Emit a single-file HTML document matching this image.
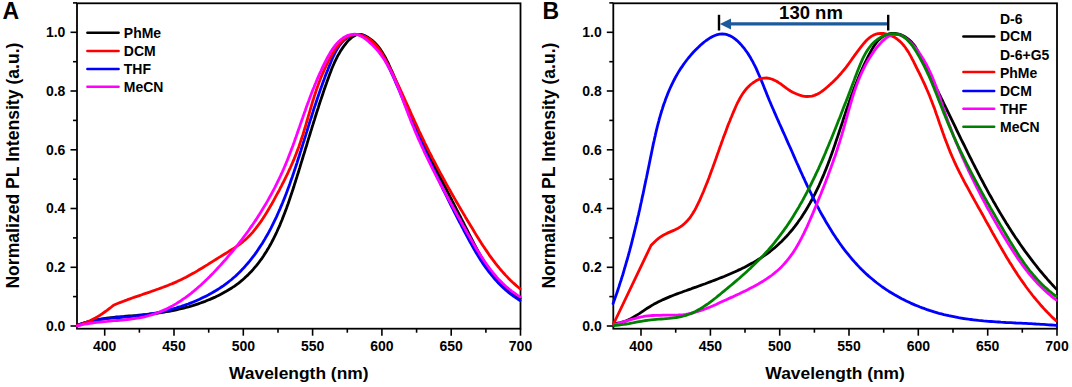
<!DOCTYPE html><html><head><meta charset="utf-8"><style>html,body{margin:0;padding:0;background:#fff;}svg{display:block;}</style></head><body><svg width="1072" height="387" viewBox="0 0 1072 387">
<rect width="1072" height="387" fill="#fff"/>
<rect x="77.0" y="3.3" width="443.5" height="325.4" fill="none" stroke="#000" stroke-width="1.8"/>
<line x1="70.5" y1="326.0" x2="77.0" y2="326.0" stroke="#000" stroke-width="1.6"/>
<text transform="translate(65.4 330.9) scale(1 1.05)" text-anchor="end" font-size="14" font-family="'Liberation Sans', sans-serif" font-weight="bold">0.0</text>
<line x1="73.0" y1="296.6" x2="77.0" y2="296.6" stroke="#000" stroke-width="1.6"/>
<line x1="70.5" y1="267.3" x2="77.0" y2="267.3" stroke="#000" stroke-width="1.6"/>
<text transform="translate(65.4 272.2) scale(1 1.05)" text-anchor="end" font-size="14" font-family="'Liberation Sans', sans-serif" font-weight="bold">0.2</text>
<line x1="73.0" y1="237.9" x2="77.0" y2="237.9" stroke="#000" stroke-width="1.6"/>
<line x1="70.5" y1="208.5" x2="77.0" y2="208.5" stroke="#000" stroke-width="1.6"/>
<text transform="translate(65.4 213.4) scale(1 1.05)" text-anchor="end" font-size="14" font-family="'Liberation Sans', sans-serif" font-weight="bold">0.4</text>
<line x1="73.0" y1="179.2" x2="77.0" y2="179.2" stroke="#000" stroke-width="1.6"/>
<line x1="70.5" y1="149.8" x2="77.0" y2="149.8" stroke="#000" stroke-width="1.6"/>
<text transform="translate(65.4 154.7) scale(1 1.05)" text-anchor="end" font-size="14" font-family="'Liberation Sans', sans-serif" font-weight="bold">0.6</text>
<line x1="73.0" y1="120.4" x2="77.0" y2="120.4" stroke="#000" stroke-width="1.6"/>
<line x1="70.5" y1="91.0" x2="77.0" y2="91.0" stroke="#000" stroke-width="1.6"/>
<text transform="translate(65.4 95.9) scale(1 1.05)" text-anchor="end" font-size="14" font-family="'Liberation Sans', sans-serif" font-weight="bold">0.8</text>
<line x1="73.0" y1="61.7" x2="77.0" y2="61.7" stroke="#000" stroke-width="1.6"/>
<line x1="70.5" y1="32.3" x2="77.0" y2="32.3" stroke="#000" stroke-width="1.6"/>
<text transform="translate(65.4 37.2) scale(1 1.05)" text-anchor="end" font-size="14" font-family="'Liberation Sans', sans-serif" font-weight="bold">1.0</text>
<line x1="73.0" y1="2.9" x2="77.0" y2="2.9" stroke="#000" stroke-width="1.6"/>
<line x1="104.7" y1="328.7" x2="104.7" y2="335.7" stroke="#000" stroke-width="1.6"/>
<text transform="translate(104.7 351.2) scale(1 1.03)" text-anchor="middle" font-size="14" font-family="'Liberation Sans', sans-serif" font-weight="bold">400</text>
<line x1="139.4" y1="328.7" x2="139.4" y2="332.7" stroke="#000" stroke-width="1.6"/>
<line x1="174.0" y1="328.7" x2="174.0" y2="335.7" stroke="#000" stroke-width="1.6"/>
<text transform="translate(174.0 351.2) scale(1 1.03)" text-anchor="middle" font-size="14" font-family="'Liberation Sans', sans-serif" font-weight="bold">450</text>
<line x1="208.7" y1="328.7" x2="208.7" y2="332.7" stroke="#000" stroke-width="1.6"/>
<line x1="243.3" y1="328.7" x2="243.3" y2="335.7" stroke="#000" stroke-width="1.6"/>
<text transform="translate(243.3 351.2) scale(1 1.03)" text-anchor="middle" font-size="14" font-family="'Liberation Sans', sans-serif" font-weight="bold">500</text>
<line x1="278.0" y1="328.7" x2="278.0" y2="332.7" stroke="#000" stroke-width="1.6"/>
<line x1="312.6" y1="328.7" x2="312.6" y2="335.7" stroke="#000" stroke-width="1.6"/>
<text transform="translate(312.6 351.2) scale(1 1.03)" text-anchor="middle" font-size="14" font-family="'Liberation Sans', sans-serif" font-weight="bold">550</text>
<line x1="347.3" y1="328.7" x2="347.3" y2="332.7" stroke="#000" stroke-width="1.6"/>
<line x1="381.9" y1="328.7" x2="381.9" y2="335.7" stroke="#000" stroke-width="1.6"/>
<text transform="translate(381.9 351.2) scale(1 1.03)" text-anchor="middle" font-size="14" font-family="'Liberation Sans', sans-serif" font-weight="bold">600</text>
<line x1="416.6" y1="328.7" x2="416.6" y2="332.7" stroke="#000" stroke-width="1.6"/>
<line x1="451.2" y1="328.7" x2="451.2" y2="335.7" stroke="#000" stroke-width="1.6"/>
<text transform="translate(451.2 351.2) scale(1 1.03)" text-anchor="middle" font-size="14" font-family="'Liberation Sans', sans-serif" font-weight="bold">650</text>
<line x1="485.9" y1="328.7" x2="485.9" y2="332.7" stroke="#000" stroke-width="1.6"/>
<line x1="520.5" y1="328.7" x2="520.5" y2="335.7" stroke="#000" stroke-width="1.6"/>
<text transform="translate(520.5 351.2) scale(1 1.03)" text-anchor="middle" font-size="14" font-family="'Liberation Sans', sans-serif" font-weight="bold">700</text>
<text x="298.8" y="378.9" text-anchor="middle" font-size="17.4" font-family="'Liberation Sans', sans-serif" font-weight="bold">Wavelength (nm)</text>
<text x="0" y="0" transform="translate(18.8 165.6) rotate(-90)" text-anchor="middle" font-size="17.6" font-family="'Liberation Sans', sans-serif" font-weight="bold">Normalized PL Intensity (a.u.)</text>
<text x="2.6" y="19" font-size="23" font-family="'Liberation Sans', sans-serif" font-weight="bold">A</text>
<rect x="613.3" y="3.3" width="443.7" height="325.4" fill="none" stroke="#000" stroke-width="1.8"/>
<line x1="606.8" y1="326.0" x2="613.3" y2="326.0" stroke="#000" stroke-width="1.6"/>
<text transform="translate(601.7 330.9) scale(1 1.05)" text-anchor="end" font-size="14" font-family="'Liberation Sans', sans-serif" font-weight="bold">0.0</text>
<line x1="609.3" y1="296.6" x2="613.3" y2="296.6" stroke="#000" stroke-width="1.6"/>
<line x1="606.8" y1="267.3" x2="613.3" y2="267.3" stroke="#000" stroke-width="1.6"/>
<text transform="translate(601.7 272.2) scale(1 1.05)" text-anchor="end" font-size="14" font-family="'Liberation Sans', sans-serif" font-weight="bold">0.2</text>
<line x1="609.3" y1="237.9" x2="613.3" y2="237.9" stroke="#000" stroke-width="1.6"/>
<line x1="606.8" y1="208.5" x2="613.3" y2="208.5" stroke="#000" stroke-width="1.6"/>
<text transform="translate(601.7 213.4) scale(1 1.05)" text-anchor="end" font-size="14" font-family="'Liberation Sans', sans-serif" font-weight="bold">0.4</text>
<line x1="609.3" y1="179.2" x2="613.3" y2="179.2" stroke="#000" stroke-width="1.6"/>
<line x1="606.8" y1="149.8" x2="613.3" y2="149.8" stroke="#000" stroke-width="1.6"/>
<text transform="translate(601.7 154.7) scale(1 1.05)" text-anchor="end" font-size="14" font-family="'Liberation Sans', sans-serif" font-weight="bold">0.6</text>
<line x1="609.3" y1="120.4" x2="613.3" y2="120.4" stroke="#000" stroke-width="1.6"/>
<line x1="606.8" y1="91.0" x2="613.3" y2="91.0" stroke="#000" stroke-width="1.6"/>
<text transform="translate(601.7 95.9) scale(1 1.05)" text-anchor="end" font-size="14" font-family="'Liberation Sans', sans-serif" font-weight="bold">0.8</text>
<line x1="609.3" y1="61.7" x2="613.3" y2="61.7" stroke="#000" stroke-width="1.6"/>
<line x1="606.8" y1="32.3" x2="613.3" y2="32.3" stroke="#000" stroke-width="1.6"/>
<text transform="translate(601.7 37.2) scale(1 1.05)" text-anchor="end" font-size="14" font-family="'Liberation Sans', sans-serif" font-weight="bold">1.0</text>
<line x1="609.3" y1="2.9" x2="613.3" y2="2.9" stroke="#000" stroke-width="1.6"/>
<line x1="641.0" y1="328.7" x2="641.0" y2="335.7" stroke="#000" stroke-width="1.6"/>
<text transform="translate(641.0 351.2) scale(1 1.03)" text-anchor="middle" font-size="14" font-family="'Liberation Sans', sans-serif" font-weight="bold">400</text>
<line x1="675.7" y1="328.7" x2="675.7" y2="332.7" stroke="#000" stroke-width="1.6"/>
<line x1="710.4" y1="328.7" x2="710.4" y2="335.7" stroke="#000" stroke-width="1.6"/>
<text transform="translate(710.4 351.2) scale(1 1.03)" text-anchor="middle" font-size="14" font-family="'Liberation Sans', sans-serif" font-weight="bold">450</text>
<line x1="745.0" y1="328.7" x2="745.0" y2="332.7" stroke="#000" stroke-width="1.6"/>
<line x1="779.7" y1="328.7" x2="779.7" y2="335.7" stroke="#000" stroke-width="1.6"/>
<text transform="translate(779.7 351.2) scale(1 1.03)" text-anchor="middle" font-size="14" font-family="'Liberation Sans', sans-serif" font-weight="bold">500</text>
<line x1="814.4" y1="328.7" x2="814.4" y2="332.7" stroke="#000" stroke-width="1.6"/>
<line x1="849.0" y1="328.7" x2="849.0" y2="335.7" stroke="#000" stroke-width="1.6"/>
<text transform="translate(849.0 351.2) scale(1 1.03)" text-anchor="middle" font-size="14" font-family="'Liberation Sans', sans-serif" font-weight="bold">550</text>
<line x1="883.7" y1="328.7" x2="883.7" y2="332.7" stroke="#000" stroke-width="1.6"/>
<line x1="918.3" y1="328.7" x2="918.3" y2="335.7" stroke="#000" stroke-width="1.6"/>
<text transform="translate(918.3 351.2) scale(1 1.03)" text-anchor="middle" font-size="14" font-family="'Liberation Sans', sans-serif" font-weight="bold">600</text>
<line x1="953.0" y1="328.7" x2="953.0" y2="332.7" stroke="#000" stroke-width="1.6"/>
<line x1="987.7" y1="328.7" x2="987.7" y2="335.7" stroke="#000" stroke-width="1.6"/>
<text transform="translate(987.7 351.2) scale(1 1.03)" text-anchor="middle" font-size="14" font-family="'Liberation Sans', sans-serif" font-weight="bold">650</text>
<line x1="1022.3" y1="328.7" x2="1022.3" y2="332.7" stroke="#000" stroke-width="1.6"/>
<line x1="1057.0" y1="328.7" x2="1057.0" y2="335.7" stroke="#000" stroke-width="1.6"/>
<text transform="translate(1057.0 351.2) scale(1 1.03)" text-anchor="middle" font-size="14" font-family="'Liberation Sans', sans-serif" font-weight="bold">700</text>
<text x="835.1" y="378.9" text-anchor="middle" font-size="17.4" font-family="'Liberation Sans', sans-serif" font-weight="bold">Wavelength (nm)</text>
<text x="0" y="0" transform="translate(555.1 165.6) rotate(-90)" text-anchor="middle" font-size="17.6" font-family="'Liberation Sans', sans-serif" font-weight="bold">Normalized PL Intensity (a.u.)</text>
<text x="542.6" y="19" font-size="23" font-family="'Liberation Sans', sans-serif" font-weight="bold">B</text>
<path d="M77.3 325.3 L79.7 324.5 L82.1 323.7 L84.5 322.9 L86.9 322.2 L89.3 321.6 L91.7 321.0 L94.2 320.4 L96.6 319.9 L99.1 319.4 L101.6 319.0 L104.1 318.6 L106.6 318.2 L109.0 317.9 L111.5 317.6 L114.0 317.3 L116.5 317.0 L119.0 316.8 L121.5 316.6 L124.0 316.4 L126.6 316.1 L129.1 315.9 L131.6 315.8 L134.1 315.6 L136.6 315.4 L139.1 315.1 L141.6 314.9 L144.1 314.7 L146.6 314.5 L149.1 314.2 L151.6 313.9 L154.1 313.6 L156.6 313.3 L159.1 312.9 L161.5 312.6 L164.0 312.2 L166.5 311.7 L169.0 311.3 L171.4 310.8 L173.9 310.3 L176.4 309.8 L178.8 309.2 L181.3 308.7 L183.7 308.1 L186.1 307.4 L188.6 306.8 L191.0 306.1 L193.4 305.4 L195.8 304.6 L198.2 303.8 L200.5 303.0 L202.9 302.1 L205.3 301.3 L207.6 300.3 L209.9 299.4 L212.2 298.4 L214.5 297.4 L216.8 296.3 L219.0 295.2 L221.3 294.0 L223.5 292.8 L225.7 291.6 L227.9 290.3 L230.0 289.0 L232.1 287.7 L234.2 286.3 L236.2 284.8 L238.3 283.3 L240.2 281.8 L242.2 280.2 L244.1 278.5 L245.9 276.8 L247.8 275.1 L249.5 273.3 L251.3 271.5 L253.0 269.6 L254.6 267.7 L256.2 265.8 L257.8 263.8 L259.3 261.9 L260.8 259.8 L262.3 257.8 L263.7 255.7 L265.0 253.6 L266.4 251.5 L267.7 249.3 L269.0 247.2 L270.2 245.0 L271.4 242.8 L272.6 240.5 L273.7 238.3 L274.8 236.1 L275.9 233.8 L277.0 231.5 L278.0 229.2 L279.1 226.9 L280.1 224.6 L281.0 222.3 L282.0 220.0 L282.9 217.6 L283.8 215.3 L284.7 213.0 L285.6 210.6 L286.5 208.3 L287.3 205.9 L288.2 203.5 L289.0 201.1 L289.8 198.8 L290.6 196.4 L291.4 194.0 L292.2 191.6 L293.0 189.2 L293.8 186.8 L294.5 184.4 L295.3 182.0 L296.0 179.6 L296.8 177.2 L297.5 174.9 L298.3 172.5 L299.0 170.1 L299.8 167.6 L300.5 165.2 L301.2 162.8 L302.0 160.4 L302.7 158.0 L303.4 155.6 L304.2 153.2 L304.9 150.8 L305.6 148.4 L306.4 146.0 L307.1 143.6 L307.8 141.2 L308.5 138.8 L309.3 136.4 L310.0 134.0 L310.7 131.6 L311.5 129.2 L312.2 126.8 L313.0 124.4 L313.7 122.0 L314.5 119.6 L315.2 117.2 L316.0 114.8 L316.7 112.4 L317.5 110.0 L318.3 107.6 L319.0 105.2 L319.8 102.8 L320.6 100.4 L321.4 98.1 L322.2 95.7 L323.0 93.3 L323.8 90.9 L324.6 88.5 L325.4 86.2 L326.3 83.8 L327.1 81.4 L328.0 79.1 L328.8 76.7 L329.7 74.3 L330.6 72.0 L331.5 69.6 L332.4 67.3 L333.4 65.0 L334.4 62.7 L335.5 60.4 L336.6 58.2 L337.7 55.9 L339.0 53.7 L340.2 51.6 L341.6 49.4 L343.0 47.4 L344.5 45.3 L346.0 43.3 L347.6 41.4 L349.3 39.6 L351.2 37.9 L353.2 36.4 L355.4 35.2 L357.8 34.4 L360.3 34.3 L362.7 34.8 L365.1 35.8 L367.3 36.9 L369.4 38.3 L371.5 39.8 L373.4 41.4 L375.2 43.1 L376.9 45.0 L378.5 46.9 L380.0 48.9 L381.4 51.0 L382.8 53.1 L384.0 55.3 L385.3 57.5 L386.4 59.7 L387.6 61.9 L388.7 64.2 L389.7 66.5 L390.7 68.8 L391.8 71.1 L392.8 73.4 L393.8 75.7 L394.8 78.0 L395.7 80.3 L396.7 82.6 L397.7 84.9 L398.7 87.3 L399.6 89.6 L400.6 91.9 L401.6 94.2 L402.5 96.5 L403.5 98.8 L404.5 101.2 L405.5 103.5 L406.4 105.8 L407.4 108.1 L408.4 110.4 L409.4 112.7 L410.4 115.0 L411.4 117.3 L412.4 119.6 L413.5 121.9 L414.5 124.2 L415.5 126.5 L416.6 128.8 L417.6 131.1 L418.7 133.4 L419.7 135.6 L420.8 137.9 L421.9 140.2 L423.0 142.5 L424.0 144.7 L425.1 147.0 L426.2 149.2 L427.3 151.5 L428.4 153.8 L429.5 156.0 L430.7 158.3 L431.8 160.5 L432.9 162.8 L434.0 165.0 L435.1 167.3 L436.3 169.5 L437.4 171.8 L438.5 174.0 L439.7 176.2 L440.8 178.5 L441.9 180.7 L443.1 183.0 L444.2 185.2 L445.4 187.4 L446.5 189.7 L447.6 191.9 L448.8 194.2 L449.9 196.4 L451.1 198.6 L452.2 200.9 L453.4 203.1 L454.5 205.3 L455.7 207.6 L456.8 209.8 L458.0 212.0 L459.1 214.3 L460.2 216.5 L461.4 218.8 L462.5 221.0 L463.7 223.2 L464.8 225.5 L465.9 227.7 L467.1 230.0 L468.2 232.2 L469.3 234.5 L470.5 236.7 L471.6 238.9 L472.8 241.2 L473.9 243.4 L475.1 245.6 L476.3 247.8 L477.5 250.1 L478.7 252.3 L479.9 254.4 L481.2 256.6 L482.5 258.8 L483.8 260.9 L485.1 263.0 L486.5 265.1 L487.9 267.2 L489.4 269.3 L490.8 271.3 L492.4 273.3 L493.9 275.3 L495.5 277.2 L497.1 279.1 L498.8 281.0 L500.5 282.8 L502.3 284.6 L504.1 286.4 L506.0 288.1 L507.9 289.7 L509.8 291.3 L511.8 292.9 L513.8 294.4 L515.9 295.8 L518.0 297.2 L520.1 298.5" fill="none" stroke="#000" stroke-width="2.8" stroke-linejoin="round" stroke-linecap="round"/>
<path d="M77.3 325.3 L79.7 324.4 L82.0 323.6 L84.4 322.9 L86.9 322.2 L89.3 321.6 L91.8 321.0 L94.2 320.5 L96.7 320.1 L99.2 319.6 L101.6 319.3 L104.1 318.9 L106.6 318.6 L109.1 318.3 L111.6 318.1 L114.1 317.9 L116.6 317.7 L119.1 317.5 L121.7 317.3 L124.2 317.1 L126.7 316.9 L129.2 316.7 L131.7 316.4 L134.2 316.2 L136.7 315.9 L139.2 315.6 L141.7 315.3 L144.2 314.9 L146.6 314.6 L149.1 314.2 L151.6 313.7 L154.1 313.3 L156.5 312.8 L159.0 312.3 L161.5 311.8 L163.9 311.2 L166.3 310.6 L168.8 310.0 L171.2 309.3 L173.6 308.7 L176.0 308.0 L178.4 307.2 L180.8 306.5 L183.2 305.7 L185.6 304.8 L188.0 304.0 L190.3 303.1 L192.6 302.2 L195.0 301.2 L197.3 300.2 L199.6 299.2 L201.9 298.1 L204.1 297.0 L206.4 295.9 L208.6 294.8 L210.8 293.6 L213.0 292.3 L215.2 291.0 L217.3 289.7 L219.4 288.4 L221.5 287.0 L223.6 285.6 L225.6 284.1 L227.6 282.6 L229.6 281.0 L231.6 279.5 L233.5 277.8 L235.4 276.2 L237.2 274.4 L239.0 272.7 L240.8 270.9 L242.6 269.1 L244.3 267.3 L245.9 265.4 L247.6 263.5 L249.2 261.6 L250.8 259.6 L252.3 257.7 L253.9 255.7 L255.4 253.6 L256.8 251.6 L258.2 249.5 L259.6 247.4 L261.0 245.3 L262.4 243.2 L263.7 241.1 L265.0 238.9 L266.2 236.7 L267.5 234.6 L268.7 232.4 L269.9 230.1 L271.1 227.9 L272.2 225.7 L273.3 223.4 L274.4 221.2 L275.5 218.9 L276.6 216.6 L277.6 214.3 L278.6 212.0 L279.7 209.7 L280.6 207.4 L281.6 205.1 L282.6 202.8 L283.5 200.5 L284.5 198.1 L285.4 195.8 L286.3 193.4 L287.2 191.1 L288.0 188.7 L288.9 186.4 L289.8 184.0 L290.6 181.6 L291.4 179.3 L292.3 176.9 L293.1 174.5 L293.9 172.1 L294.7 169.8 L295.5 167.4 L296.3 165.0 L297.1 162.6 L297.8 160.2 L298.6 157.8 L299.4 155.4 L300.1 153.0 L300.9 150.6 L301.6 148.2 L302.4 145.8 L303.1 143.4 L303.9 141.0 L304.6 138.6 L305.4 136.2 L306.1 133.8 L306.9 131.4 L307.6 129.0 L308.3 126.6 L309.1 124.2 L309.8 121.8 L310.6 119.4 L311.4 117.0 L312.1 114.6 L312.9 112.2 L313.6 109.8 L314.4 107.4 L315.2 105.1 L316.0 102.7 L316.8 100.3 L317.6 97.9 L318.4 95.5 L319.2 93.1 L320.0 90.8 L320.8 88.4 L321.7 86.0 L322.5 83.7 L323.4 81.3 L324.3 78.9 L325.1 76.6 L326.0 74.2 L326.9 71.9 L327.9 69.6 L328.8 67.2 L329.7 64.9 L330.7 62.6 L331.6 60.2 L332.6 57.9 L333.7 55.6 L334.8 53.4 L336.0 51.2 L337.2 49.0 L338.5 46.9 L340.0 44.8 L341.6 42.8 L343.3 41.0 L345.2 39.3 L347.2 37.8 L349.4 36.6 L351.7 35.5 L354.0 34.8 L356.5 34.3 L359.0 34.3 L361.5 34.7 L363.8 35.6 L366.0 36.9 L368.0 38.4 L370.0 39.9 L371.8 41.6 L373.6 43.4 L375.3 45.3 L376.9 47.2 L378.4 49.2 L379.9 51.3 L381.3 53.4 L382.6 55.5 L383.9 57.7 L385.1 59.9 L386.3 62.1 L387.4 64.3 L388.5 66.6 L389.6 68.8 L390.7 71.1 L391.7 73.4 L392.8 75.7 L393.8 78.0 L394.8 80.3 L395.8 82.6 L396.8 84.9 L397.8 87.2 L398.8 89.5 L399.8 91.8 L400.8 94.2 L401.7 96.5 L402.7 98.8 L403.7 101.1 L404.6 103.4 L405.6 105.7 L406.6 108.1 L407.5 110.4 L408.5 112.7 L409.5 115.0 L410.4 117.3 L411.4 119.7 L412.4 122.0 L413.4 124.3 L414.4 126.6 L415.4 128.9 L416.4 131.2 L417.4 133.5 L418.4 135.8 L419.4 138.1 L420.4 140.4 L421.5 142.7 L422.5 145.0 L423.5 147.3 L424.5 149.6 L425.6 151.9 L426.6 154.2 L427.7 156.5 L428.7 158.7 L429.8 161.0 L430.8 163.3 L431.9 165.6 L432.9 167.9 L434.0 170.1 L435.1 172.4 L436.1 174.7 L437.2 177.0 L438.3 179.2 L439.4 181.5 L440.5 183.8 L441.6 186.0 L442.6 188.3 L443.7 190.6 L444.9 192.8 L446.0 195.1 L447.1 197.3 L448.2 199.6 L449.3 201.8 L450.4 204.1 L451.5 206.3 L452.7 208.6 L453.8 210.8 L454.9 213.1 L456.1 215.3 L457.2 217.5 L458.4 219.8 L459.5 222.0 L460.7 224.2 L461.8 226.5 L463.0 228.7 L464.1 230.9 L465.3 233.2 L466.5 235.4 L467.7 237.6 L468.9 239.8 L470.1 242.0 L471.3 244.2 L472.5 246.4 L473.7 248.6 L475.0 250.8 L476.3 253.0 L477.6 255.1 L478.9 257.2 L480.2 259.4 L481.6 261.5 L483.0 263.6 L484.4 265.7 L485.8 267.7 L487.3 269.7 L488.8 271.8 L490.4 273.7 L492.0 275.7 L493.6 277.6 L495.2 279.5 L496.9 281.4 L498.6 283.2 L500.4 285.0 L502.2 286.8 L504.0 288.5 L505.9 290.1 L507.8 291.8 L509.8 293.3 L511.8 294.9 L513.8 296.4 L515.9 297.8 L518.0 299.2 L520.1 300.5" fill="none" stroke="#00f" stroke-width="2.8" stroke-linejoin="round" stroke-linecap="round"/>
<path d="M77.3 325.3 L80.0 324.6 L82.6 323.7 L85.3 322.8 L87.8 321.7 L90.4 320.6 L92.9 319.3 L95.3 318.0 L97.7 316.6 L100.1 315.2 L102.4 313.6 L104.7 312.0 L107.0 310.4 L109.2 308.7 L111.4 307.0 L113.5 305.2 L113.5 305.2 L115.8 304.2 L118.1 303.3 L120.5 302.4 L122.8 301.5 L125.2 300.6 L127.5 299.7 L129.9 298.9 L132.2 298.0 L134.6 297.2 L137.0 296.4 L139.4 295.6 L141.7 294.8 L144.1 293.9 L146.5 293.1 L148.9 292.3 L151.2 291.5 L153.6 290.7 L156.0 289.8 L158.3 289.0 L160.7 288.1 L163.0 287.3 L165.4 286.4 L167.7 285.5 L170.0 284.5 L172.4 283.6 L174.7 282.6 L177.0 281.6 L179.2 280.5 L181.5 279.4 L183.8 278.3 L186.0 277.2 L188.2 276.0 L190.4 274.8 L192.6 273.6 L194.8 272.4 L197.0 271.1 L199.1 269.8 L201.3 268.5 L203.4 267.2 L205.5 265.9 L207.7 264.6 L209.8 263.2 L211.9 261.9 L214.0 260.6 L216.2 259.2 L218.3 257.9 L220.4 256.6 L222.6 255.3 L224.7 254.0 L226.9 252.7 L229.0 251.3 L231.1 250.0 L233.2 248.7 L235.3 247.3 L237.4 245.9 L239.5 244.4 L241.5 242.9 L243.4 241.3 L245.3 239.7 L247.1 238.0 L248.9 236.2 L250.7 234.4 L252.4 232.6 L254.0 230.7 L255.6 228.7 L257.1 226.7 L258.6 224.7 L260.1 222.7 L261.5 220.6 L262.9 218.5 L264.3 216.4 L265.6 214.3 L266.9 212.2 L268.2 210.0 L269.5 207.8 L270.7 205.7 L272.0 203.5 L273.2 201.3 L274.4 199.1 L275.6 196.9 L276.8 194.7 L278.0 192.5 L279.2 190.3 L280.3 188.0 L281.5 185.8 L282.6 183.6 L283.8 181.3 L284.9 179.1 L286.0 176.8 L287.1 174.6 L288.2 172.3 L289.2 170.0 L290.3 167.8 L291.3 165.5 L292.3 163.2 L293.3 160.9 L294.3 158.6 L295.2 156.2 L296.1 153.9 L297.0 151.6 L297.9 149.2 L298.8 146.9 L299.6 144.5 L300.4 142.1 L301.2 139.7 L302.0 137.3 L302.8 135.0 L303.5 132.6 L304.2 130.2 L305.0 127.8 L305.7 125.4 L306.4 122.9 L307.1 120.5 L307.8 118.1 L308.5 115.7 L309.2 113.3 L309.9 110.9 L310.6 108.5 L311.3 106.1 L312.0 103.7 L312.7 101.3 L313.5 98.9 L314.2 96.5 L315.0 94.1 L315.8 91.7 L316.6 89.3 L317.4 87.0 L318.3 84.6 L319.1 82.2 L320.0 79.9 L320.9 77.6 L321.9 75.2 L322.9 72.9 L323.9 70.6 L324.9 68.4 L326.0 66.1 L327.1 63.8 L328.2 61.6 L329.4 59.4 L330.6 57.2 L331.8 55.0 L333.1 52.8 L334.4 50.7 L335.8 48.6 L337.3 46.6 L338.8 44.6 L340.4 42.7 L342.2 40.9 L344.1 39.2 L346.1 37.7 L348.2 36.4 L350.5 35.5 L353.0 34.8 L355.5 34.5 L358.0 34.6 L360.4 35.0 L362.8 35.7 L365.1 36.7 L367.4 37.9 L369.5 39.2 L371.5 40.8 L373.3 42.4 L375.1 44.2 L376.8 46.1 L378.4 48.0 L379.8 50.1 L381.2 52.2 L382.5 54.3 L383.7 56.5 L385.0 58.7 L386.1 60.9 L387.3 63.1 L388.5 65.3 L389.6 67.6 L390.7 69.8 L391.9 72.1 L393.0 74.3 L394.1 76.6 L395.2 78.8 L396.3 81.1 L397.3 83.3 L398.4 85.6 L399.5 87.9 L400.5 90.2 L401.6 92.4 L402.6 94.7 L403.7 97.0 L404.7 99.3 L405.7 101.6 L406.8 103.9 L407.8 106.1 L408.8 108.4 L409.9 110.7 L410.9 113.0 L411.9 115.3 L413.0 117.6 L414.0 119.9 L415.0 122.2 L416.1 124.4 L417.1 126.7 L418.2 129.0 L419.2 131.3 L420.3 133.5 L421.4 135.8 L422.5 138.1 L423.6 140.3 L424.6 142.6 L425.8 144.8 L426.9 147.1 L428.0 149.3 L429.1 151.6 L430.3 153.8 L431.4 156.0 L432.5 158.3 L433.7 160.5 L434.9 162.7 L436.0 164.9 L437.2 167.2 L438.4 169.4 L439.6 171.6 L440.8 173.8 L442.0 176.0 L443.2 178.2 L444.4 180.4 L445.6 182.6 L446.8 184.8 L448.0 187.0 L449.3 189.2 L450.5 191.3 L451.7 193.5 L453.0 195.7 L454.2 197.9 L455.5 200.1 L456.7 202.2 L458.0 204.4 L459.3 206.6 L460.5 208.7 L461.8 210.9 L463.1 213.1 L464.4 215.2 L465.6 217.4 L466.9 219.5 L468.2 221.7 L469.5 223.8 L470.8 226.0 L472.1 228.1 L473.4 230.3 L474.7 232.4 L476.0 234.6 L477.3 236.7 L478.6 238.8 L480.0 241.0 L481.3 243.1 L482.7 245.2 L484.1 247.3 L485.5 249.4 L486.9 251.4 L488.3 253.5 L489.7 255.6 L491.2 257.6 L492.7 259.6 L494.2 261.6 L495.7 263.6 L497.3 265.6 L498.9 267.5 L500.5 269.5 L502.1 271.4 L503.8 273.2 L505.5 275.1 L507.2 276.9 L508.9 278.7 L510.7 280.5 L512.5 282.2 L514.4 283.9 L516.3 285.6 L518.2 287.2 L520.1 288.8" fill="none" stroke="#f00" stroke-width="2.8" stroke-linejoin="round" stroke-linecap="round"/>
<path d="M77.3 325.9 L79.7 325.3 L82.2 324.7 L84.6 324.2 L87.1 323.8 L89.6 323.4 L92.1 323.0 L94.6 322.7 L97.1 322.4 L99.6 322.1 L102.0 321.8 L104.5 321.6 L107.0 321.4 L109.6 321.1 L112.1 320.9 L114.6 320.7 L117.1 320.5 L119.6 320.3 L122.1 320.1 L124.6 319.8 L127.1 319.5 L129.5 319.3 L132.0 318.9 L134.5 318.6 L137.0 318.2 L139.5 317.8 L141.9 317.3 L144.4 316.8 L146.8 316.2 L149.3 315.5 L151.7 314.8 L154.1 314.1 L156.4 313.2 L158.8 312.3 L161.1 311.4 L163.4 310.4 L165.7 309.4 L167.9 308.2 L170.2 307.1 L172.4 305.9 L174.6 304.6 L176.7 303.4 L178.8 302.0 L181.0 300.7 L183.0 299.2 L185.1 297.8 L187.1 296.3 L189.1 294.8 L191.1 293.3 L193.1 291.7 L195.0 290.1 L196.9 288.5 L198.8 286.8 L200.7 285.2 L202.5 283.5 L204.4 281.8 L206.2 280.0 L208.0 278.3 L209.8 276.5 L211.5 274.7 L213.3 272.9 L215.0 271.1 L216.7 269.3 L218.4 267.4 L220.1 265.6 L221.8 263.7 L223.5 261.8 L225.2 260.0 L226.8 258.1 L228.4 256.2 L230.1 254.2 L231.7 252.3 L233.3 250.4 L234.9 248.4 L236.4 246.5 L238.0 244.5 L239.5 242.5 L241.1 240.5 L242.6 238.6 L244.1 236.5 L245.6 234.5 L247.1 232.5 L248.6 230.5 L250.0 228.4 L251.4 226.4 L252.9 224.3 L254.3 222.2 L255.7 220.1 L257.1 218.0 L258.4 215.9 L259.8 213.8 L261.1 211.7 L262.4 209.6 L263.7 207.4 L265.0 205.3 L266.3 203.1 L267.6 200.9 L268.8 198.7 L270.0 196.5 L271.2 194.3 L272.4 192.1 L273.6 189.9 L274.8 187.7 L275.9 185.4 L277.0 183.2 L278.1 180.9 L279.2 178.7 L280.3 176.4 L281.3 174.1 L282.4 171.8 L283.4 169.5 L284.4 167.2 L285.4 164.9 L286.3 162.6 L287.3 160.3 L288.2 157.9 L289.1 155.6 L290.0 153.3 L290.9 150.9 L291.8 148.6 L292.7 146.2 L293.5 143.9 L294.4 141.5 L295.2 139.1 L296.1 136.8 L296.9 134.4 L297.7 132.0 L298.5 129.7 L299.4 127.3 L300.2 124.9 L301.0 122.5 L301.8 120.2 L302.7 117.8 L303.5 115.4 L304.3 113.1 L305.2 110.7 L306.0 108.3 L306.8 106.0 L307.7 103.6 L308.6 101.2 L309.4 98.9 L310.3 96.5 L311.2 94.2 L312.1 91.8 L313.0 89.5 L314.0 87.2 L314.9 84.8 L315.9 82.5 L316.8 80.2 L317.8 77.9 L318.8 75.6 L319.8 73.3 L320.9 71.0 L321.9 68.7 L323.0 66.5 L324.1 64.2 L325.2 62.0 L326.4 59.7 L327.5 57.5 L328.8 55.3 L330.0 53.1 L331.3 51.0 L332.7 48.9 L334.2 46.9 L335.7 44.9 L337.4 43.0 L339.1 41.2 L341.0 39.5 L343.0 38.0 L345.2 36.7 L347.4 35.6 L349.8 34.8 L352.3 34.3 L354.8 34.2 L357.2 34.6 L359.6 35.4 L361.8 36.6 L363.9 37.9 L366.0 39.4 L367.9 41.0 L369.8 42.6 L371.7 44.3 L373.5 46.0 L375.2 47.9 L376.9 49.7 L378.5 51.7 L380.0 53.6 L381.5 55.6 L383.0 57.7 L384.4 59.8 L385.7 61.9 L387.0 64.1 L388.2 66.3 L389.4 68.5 L390.6 70.7 L391.7 72.9 L392.8 75.2 L393.9 77.5 L394.9 79.8 L395.9 82.1 L396.9 84.4 L397.8 86.7 L398.8 89.0 L399.7 91.4 L400.6 93.7 L401.5 96.1 L402.4 98.4 L403.2 100.8 L404.1 103.1 L405.0 105.5 L405.9 107.8 L406.8 110.2 L407.7 112.5 L408.5 114.9 L409.5 117.2 L410.4 119.5 L411.3 121.9 L412.2 124.2 L413.2 126.5 L414.2 128.8 L415.1 131.2 L416.1 133.5 L417.1 135.8 L418.1 138.1 L419.1 140.4 L420.2 142.7 L421.2 145.0 L422.2 147.2 L423.3 149.5 L424.3 151.8 L425.4 154.1 L426.5 156.3 L427.6 158.6 L428.7 160.9 L429.8 163.1 L430.9 165.4 L432.0 167.6 L433.1 169.8 L434.3 172.1 L435.4 174.3 L436.6 176.6 L437.7 178.8 L438.9 181.0 L440.0 183.2 L441.2 185.5 L442.4 187.7 L443.6 189.9 L444.8 192.1 L446.0 194.3 L447.1 196.5 L448.3 198.7 L449.5 200.9 L450.7 203.1 L452.0 205.3 L453.2 207.5 L454.4 209.7 L455.6 211.9 L456.8 214.1 L458.0 216.3 L459.3 218.5 L460.5 220.7 L461.7 222.9 L462.9 225.1 L464.2 227.3 L465.4 229.5 L466.6 231.7 L467.8 233.9 L469.1 236.0 L470.3 238.2 L471.6 240.4 L472.8 242.6 L474.1 244.8 L475.4 246.9 L476.6 249.1 L478.0 251.2 L479.3 253.3 L480.6 255.5 L482.0 257.6 L483.4 259.7 L484.8 261.7 L486.2 263.8 L487.7 265.8 L489.2 267.9 L490.7 269.9 L492.3 271.8 L493.8 273.8 L495.5 275.7 L497.1 277.6 L498.8 279.4 L500.6 281.2 L502.3 283.0 L504.1 284.8 L506.0 286.5 L507.9 288.1 L509.8 289.7 L511.8 291.3 L513.8 292.7 L515.9 294.2 L518.0 295.6 L520.1 296.9" fill="none" stroke="#f0f" stroke-width="2.8" stroke-linejoin="round" stroke-linecap="round"/>
<path d="M613.9 323.5 L616.4 323.3 L618.9 323.0 L621.3 322.4 L623.7 321.7 L626.1 320.8 L628.4 319.8 L630.7 318.7 L632.9 317.5 L635.0 316.2 L637.2 314.9 L639.3 313.6 L641.4 312.2 L643.4 310.8 L645.5 309.4 L647.6 308.0 L649.8 306.7 L651.9 305.4 L654.1 304.1 L656.3 302.9 L658.5 301.8 L660.8 300.7 L663.1 299.6 L665.4 298.6 L667.7 297.6 L670.0 296.6 L672.3 295.7 L674.7 294.8 L677.0 293.9 L679.4 293.0 L681.7 292.2 L684.1 291.3 L686.4 290.5 L688.8 289.6 L691.2 288.8 L693.5 287.9 L695.9 287.1 L698.3 286.2 L700.6 285.4 L703.0 284.5 L705.3 283.7 L707.7 282.8 L710.1 281.9 L712.4 281.0 L714.8 280.1 L717.1 279.2 L719.4 278.3 L721.8 277.4 L724.1 276.5 L726.4 275.5 L728.7 274.5 L731.0 273.5 L733.3 272.5 L735.6 271.5 L737.9 270.4 L740.2 269.4 L742.4 268.3 L744.7 267.2 L746.9 266.0 L749.1 264.8 L751.3 263.6 L753.5 262.4 L755.7 261.1 L757.9 259.8 L760.0 258.5 L762.1 257.1 L764.2 255.7 L766.2 254.3 L768.3 252.8 L770.3 251.3 L772.2 249.7 L774.2 248.2 L776.1 246.5 L778.0 244.8 L779.8 243.1 L781.6 241.4 L783.4 239.6 L785.1 237.8 L786.8 236.0 L788.5 234.1 L790.1 232.2 L791.8 230.3 L793.3 228.3 L794.9 226.3 L796.4 224.3 L797.9 222.3 L799.3 220.3 L800.8 218.2 L802.2 216.1 L803.5 214.0 L804.9 211.9 L806.2 209.7 L807.5 207.6 L808.7 205.4 L810.0 203.2 L811.2 201.0 L812.4 198.8 L813.5 196.6 L814.7 194.4 L815.8 192.1 L816.9 189.8 L818.0 187.6 L819.1 185.3 L820.1 183.0 L821.1 180.7 L822.1 178.4 L823.1 176.1 L824.1 173.8 L825.0 171.5 L826.0 169.1 L826.9 166.8 L827.8 164.5 L828.7 162.1 L829.6 159.8 L830.4 157.4 L831.3 155.1 L832.1 152.7 L833.0 150.3 L833.8 147.9 L834.6 145.6 L835.4 143.2 L836.2 140.8 L837.0 138.4 L837.8 136.1 L838.6 133.7 L839.4 131.3 L840.2 128.9 L841.0 126.5 L841.8 124.1 L842.6 121.7 L843.3 119.4 L844.1 117.0 L844.9 114.6 L845.7 112.2 L846.5 109.8 L847.3 107.5 L848.1 105.1 L849.0 102.7 L849.8 100.3 L850.6 98.0 L851.5 95.6 L852.4 93.2 L853.2 90.9 L854.1 88.5 L855.0 86.2 L855.9 83.9 L856.9 81.5 L857.8 79.2 L858.8 76.9 L859.7 74.6 L860.7 72.3 L861.7 70.0 L862.8 67.7 L863.8 65.4 L864.9 63.1 L866.0 60.9 L867.1 58.6 L868.2 56.4 L869.4 54.1 L870.6 51.9 L871.8 49.7 L873.0 47.6 L874.4 45.4 L875.8 43.4 L877.4 41.4 L879.1 39.6 L881.0 37.9 L883.0 36.4 L885.2 35.2 L887.5 34.3 L890.0 33.7 L892.5 33.4 L895.0 33.5 L897.5 33.8 L899.9 34.4 L902.2 35.3 L904.5 36.4 L906.6 37.8 L908.6 39.3 L910.5 41.0 L912.2 42.8 L913.8 44.7 L915.3 46.7 L916.6 48.9 L917.9 51.1 L919.0 53.3 L920.2 55.5 L921.3 57.8 L922.4 60.0 L923.6 62.2 L924.7 64.5 L925.8 66.7 L926.9 69.0 L928.0 71.2 L929.2 73.5 L930.3 75.7 L931.4 78.0 L932.5 80.2 L933.6 82.5 L934.7 84.7 L935.8 87.0 L936.9 89.3 L938.0 91.5 L939.1 93.8 L940.2 96.0 L941.3 98.3 L942.4 100.5 L943.5 102.8 L944.6 105.1 L945.7 107.3 L946.8 109.6 L947.9 111.8 L949.0 114.1 L950.1 116.4 L951.2 118.6 L952.3 120.9 L953.4 123.1 L954.5 125.4 L955.6 127.7 L956.6 129.9 L957.7 132.2 L958.8 134.4 L959.9 136.7 L961.0 139.0 L962.1 141.2 L963.3 143.5 L964.4 145.7 L965.5 148.0 L966.6 150.2 L967.7 152.5 L968.8 154.7 L969.9 157.0 L971.1 159.2 L972.2 161.5 L973.3 163.7 L974.5 165.9 L975.6 168.2 L976.8 170.4 L977.9 172.6 L979.1 174.9 L980.2 177.1 L981.4 179.3 L982.6 181.5 L983.8 183.8 L984.9 186.0 L986.1 188.2 L987.3 190.4 L988.5 192.6 L989.7 194.8 L991.0 197.0 L992.2 199.2 L993.4 201.4 L994.7 203.5 L995.9 205.7 L997.2 207.9 L998.4 210.1 L999.7 212.2 L1001.0 214.4 L1002.3 216.5 L1003.6 218.7 L1004.9 220.8 L1006.2 223.0 L1007.6 225.1 L1008.9 227.2 L1010.2 229.3 L1011.6 231.5 L1013.0 233.6 L1014.4 235.7 L1015.7 237.7 L1017.2 239.8 L1018.6 241.9 L1020.0 244.0 L1021.4 246.0 L1022.9 248.1 L1024.3 250.1 L1025.8 252.2 L1027.3 254.2 L1028.8 256.2 L1030.3 258.2 L1031.8 260.2 L1033.3 262.2 L1034.9 264.2 L1036.5 266.1 L1038.0 268.1 L1039.6 270.1 L1041.2 272.0 L1042.8 273.9 L1044.4 275.8 L1046.1 277.7 L1047.7 279.6 L1049.4 281.5 L1051.1 283.4 L1052.8 285.2 L1054.5 287.1 L1056.2 288.9" fill="none" stroke="#000" stroke-width="2.8" stroke-linejoin="round" stroke-linecap="round"/>
<path d="M613.1 303.5 L614.0 301.1 L614.8 298.8 L615.6 296.4 L616.5 294.0 L617.3 291.7 L618.1 289.3 L618.9 286.9 L619.6 284.5 L620.4 282.1 L621.2 279.7 L621.9 277.4 L622.7 275.0 L623.4 272.6 L624.1 270.2 L624.8 267.7 L625.5 265.3 L626.2 262.9 L626.9 260.5 L627.6 258.1 L628.3 255.7 L628.9 253.3 L629.6 250.8 L630.2 248.4 L630.9 246.0 L631.5 243.6 L632.1 241.1 L632.7 238.7 L633.3 236.3 L633.9 233.8 L634.5 231.4 L635.1 229.0 L635.7 226.5 L636.3 224.1 L636.9 221.6 L637.4 219.2 L638.0 216.7 L638.6 214.3 L639.1 211.8 L639.7 209.4 L640.2 207.0 L640.7 204.5 L641.3 202.0 L641.8 199.6 L642.3 197.1 L642.9 194.7 L643.4 192.2 L643.9 189.8 L644.4 187.3 L644.9 184.9 L645.4 182.4 L645.9 180.0 L646.5 177.5 L647.0 175.0 L647.5 172.6 L648.0 170.1 L648.5 167.7 L649.0 165.2 L649.5 162.8 L650.0 160.3 L650.5 157.8 L651.0 155.4 L651.5 152.9 L652.0 150.5 L652.5 148.0 L653.0 145.6 L653.5 143.1 L654.1 140.6 L654.6 138.2 L655.2 135.8 L655.7 133.3 L656.3 130.9 L656.9 128.4 L657.5 126.0 L658.1 123.6 L658.8 121.1 L659.4 118.7 L660.1 116.3 L660.8 113.9 L661.5 111.5 L662.3 109.1 L663.0 106.7 L663.8 104.3 L664.7 102.0 L665.5 99.6 L666.4 97.2 L667.3 94.9 L668.2 92.6 L669.2 90.3 L670.2 88.0 L671.3 85.7 L672.4 83.4 L673.5 81.2 L674.6 79.0 L675.8 76.7 L677.0 74.6 L678.3 72.4 L679.6 70.3 L681.0 68.1 L682.4 66.1 L683.8 64.0 L685.3 62.0 L686.8 60.0 L688.4 58.0 L690.0 56.1 L691.6 54.2 L693.3 52.3 L695.0 50.5 L696.8 48.7 L698.6 47.0 L700.4 45.2 L702.3 43.6 L704.2 42.0 L706.2 40.5 L708.3 39.1 L710.4 37.7 L712.6 36.5 L714.9 35.5 L717.3 34.7 L719.7 34.2 L722.2 34.0 L724.7 34.1 L727.2 34.7 L729.5 35.6 L731.8 36.7 L733.9 38.1 L735.9 39.6 L737.8 41.3 L739.5 43.0 L741.3 44.9 L742.9 46.8 L744.5 48.7 L745.9 50.7 L747.4 52.8 L748.8 54.9 L750.1 57.0 L751.3 59.2 L752.6 61.4 L753.7 63.6 L754.9 65.8 L756.0 68.1 L757.0 70.4 L758.0 72.7 L759.0 75.0 L760.0 77.3 L761.0 79.6 L761.9 81.9 L762.9 84.2 L763.8 86.6 L764.7 88.9 L765.7 91.2 L766.6 93.6 L767.5 95.9 L768.5 98.2 L769.4 100.5 L770.4 102.8 L771.4 105.2 L772.4 107.5 L773.4 109.8 L774.4 112.1 L775.4 114.4 L776.4 116.7 L777.4 119.0 L778.4 121.2 L779.4 123.5 L780.5 125.8 L781.5 128.1 L782.5 130.4 L783.5 132.7 L784.6 135.0 L785.6 137.3 L786.6 139.6 L787.6 141.9 L788.6 144.2 L789.7 146.5 L790.7 148.7 L791.7 151.0 L792.7 153.3 L793.7 155.6 L794.7 157.9 L795.7 160.2 L796.7 162.5 L797.8 164.8 L798.8 167.1 L799.8 169.4 L800.8 171.7 L801.9 174.0 L802.9 176.3 L804.0 178.5 L805.0 180.8 L806.1 183.1 L807.1 185.4 L808.2 187.6 L809.3 189.9 L810.4 192.2 L811.5 194.4 L812.6 196.7 L813.7 198.9 L814.8 201.1 L816.0 203.4 L817.1 205.6 L818.3 207.8 L819.4 210.1 L820.6 212.3 L821.8 214.5 L823.1 216.7 L824.3 218.8 L825.5 221.0 L826.8 223.2 L828.1 225.3 L829.4 227.5 L830.7 229.6 L832.0 231.7 L833.4 233.9 L834.8 236.0 L836.1 238.1 L837.6 240.1 L839.0 242.2 L840.4 244.2 L841.9 246.3 L843.4 248.3 L844.9 250.3 L846.5 252.3 L848.0 254.2 L849.6 256.2 L851.2 258.1 L852.8 260.0 L854.5 261.9 L856.2 263.7 L857.9 265.6 L859.6 267.4 L861.4 269.2 L863.2 270.9 L865.0 272.7 L866.8 274.4 L868.7 276.1 L870.6 277.7 L872.5 279.3 L874.4 280.9 L876.4 282.5 L878.4 284.0 L880.4 285.5 L882.4 287.0 L884.5 288.4 L886.6 289.8 L888.7 291.2 L890.8 292.5 L893.0 293.8 L895.1 295.1 L897.3 296.3 L899.5 297.5 L901.7 298.7 L903.9 299.8 L906.2 301.0 L908.5 302.0 L910.7 303.1 L913.0 304.1 L915.3 305.1 L917.7 306.0 L920.0 307.0 L922.3 307.9 L924.7 308.7 L927.1 309.6 L929.4 310.4 L931.8 311.1 L934.2 311.9 L936.6 312.6 L939.0 313.3 L941.5 313.9 L943.9 314.6 L946.3 315.1 L948.8 315.7 L951.2 316.2 L953.7 316.7 L956.1 317.2 L958.6 317.7 L961.1 318.1 L963.6 318.5 L966.0 318.8 L968.5 319.2 L971.0 319.5 L973.5 319.8 L976.0 320.1 L978.5 320.4 L981.0 320.6 L983.5 320.9 L986.0 321.1 L988.5 321.3 L991.0 321.5 L993.5 321.7 L996.0 321.9 L998.5 322.0 L1001.0 322.2 L1003.5 322.3 L1006.0 322.5 L1008.5 322.6 L1011.0 322.7 L1013.5 322.8 L1016.0 323.0 L1018.5 323.1 L1021.0 323.2 L1023.6 323.3 L1026.1 323.4 L1028.6 323.6 L1031.1 323.7 L1033.6 323.8 L1036.1 324.0 L1038.6 324.1 L1041.1 324.3 L1043.6 324.4 L1046.1 324.6 L1048.6 324.8 L1051.1 325.0 L1053.6 325.2 L1056.1 325.4" fill="none" stroke="#00f" stroke-width="2.8" stroke-linejoin="round" stroke-linecap="round"/>
<path d="M613.5 324.0 L651.0 245.5 L651.0 245.5 L652.7 243.7 L654.5 241.9 L656.3 240.2 L658.2 238.6 L660.2 237.1 L662.4 235.7 L664.6 234.5 L666.8 233.4 L669.1 232.4 L671.4 231.4 L673.7 230.4 L676.0 229.3 L678.2 228.2 L680.3 226.8 L682.4 225.4 L684.3 223.8 L686.1 222.0 L687.8 220.2 L689.4 218.3 L690.9 216.3 L692.3 214.2 L693.6 212.0 L694.9 209.9 L696.1 207.7 L697.2 205.4 L698.3 203.2 L699.4 200.9 L700.4 198.6 L701.4 196.3 L702.4 194.0 L703.4 191.7 L704.3 189.4 L705.3 187.0 L706.2 184.7 L707.2 182.4 L708.1 180.0 L709.0 177.7 L709.8 175.4 L710.7 173.0 L711.6 170.6 L712.5 168.3 L713.3 165.9 L714.2 163.6 L715.0 161.2 L715.9 158.8 L716.7 156.5 L717.5 154.1 L718.4 151.8 L719.2 149.4 L720.0 147.0 L720.9 144.7 L721.7 142.3 L722.6 139.9 L723.4 137.6 L724.3 135.2 L725.2 132.9 L726.1 130.5 L726.9 128.2 L727.8 125.8 L728.7 123.5 L729.7 121.2 L730.6 118.8 L731.6 116.5 L732.5 114.2 L733.5 111.9 L734.5 109.6 L735.5 107.3 L736.5 105.0 L737.6 102.7 L738.8 100.5 L739.9 98.3 L741.2 96.1 L742.5 94.0 L744.0 91.9 L745.5 89.9 L747.1 88.0 L748.9 86.2 L750.7 84.5 L752.7 83.0 L754.8 81.6 L756.9 80.3 L759.2 79.3 L761.6 78.5 L764.1 78.1 L766.6 78.0 L769.1 78.3 L771.5 79.0 L773.8 79.9 L776.1 81.0 L778.2 82.3 L780.3 83.7 L782.3 85.2 L784.3 86.7 L786.3 88.2 L788.4 89.6 L790.5 91.0 L792.7 92.2 L795.0 93.3 L797.3 94.3 L799.6 95.1 L802.1 95.8 L804.5 96.3 L807.0 96.5 L809.5 96.4 L812.0 96.1 L814.4 95.4 L816.7 94.4 L819.0 93.3 L821.1 91.9 L823.1 90.5 L825.1 88.9 L827.0 87.3 L828.9 85.6 L830.7 83.9 L832.6 82.2 L834.4 80.4 L836.1 78.7 L837.9 76.9 L839.6 75.0 L841.2 73.2 L842.9 71.2 L844.4 69.3 L846.0 67.3 L847.5 65.3 L849.0 63.3 L850.5 61.2 L851.9 59.2 L853.4 57.2 L854.8 55.1 L856.3 53.1 L857.8 51.1 L859.3 49.1 L860.8 47.1 L862.4 45.1 L864.0 43.2 L865.7 41.3 L867.4 39.5 L869.3 37.9 L871.3 36.4 L873.5 35.1 L875.8 34.2 L878.2 33.6 L880.7 33.4 L883.2 33.5 L885.7 33.9 L888.1 34.5 L890.5 35.4 L892.8 36.4 L895.0 37.6 L897.1 39.0 L899.0 40.6 L900.9 42.3 L902.6 44.1 L904.2 46.0 L905.7 48.0 L907.1 50.1 L908.5 52.2 L909.7 54.4 L911.0 56.6 L912.1 58.8 L913.3 61.0 L914.4 63.3 L915.5 65.5 L916.6 67.8 L917.7 70.0 L918.9 72.3 L920.0 74.5 L921.1 76.8 L922.1 79.0 L923.2 81.3 L924.3 83.6 L925.3 85.9 L926.3 88.2 L927.3 90.5 L928.3 92.8 L929.3 95.1 L930.2 97.4 L931.1 99.7 L932.0 102.1 L932.9 104.4 L933.8 106.8 L934.7 109.1 L935.5 111.5 L936.3 113.9 L937.2 116.2 L938.0 118.6 L938.8 121.0 L939.6 123.4 L940.5 125.7 L941.3 128.1 L942.1 130.5 L942.9 132.8 L943.8 135.2 L944.6 137.6 L945.5 139.9 L946.4 142.3 L947.3 144.6 L948.2 147.0 L949.1 149.3 L950.0 151.6 L951.0 153.9 L952.0 156.2 L953.0 158.5 L954.0 160.8 L955.1 163.1 L956.1 165.4 L957.2 167.6 L958.3 169.9 L959.4 172.1 L960.6 174.4 L961.7 176.6 L962.9 178.8 L964.0 181.1 L965.2 183.3 L966.4 185.5 L967.6 187.7 L968.8 189.9 L970.0 192.1 L971.2 194.3 L972.4 196.5 L973.6 198.7 L974.8 200.9 L976.1 203.1 L977.3 205.3 L978.5 207.5 L979.7 209.6 L981.0 211.8 L982.2 214.0 L983.4 216.2 L984.6 218.4 L985.8 220.6 L987.0 222.8 L988.3 225.0 L989.5 227.2 L990.7 229.4 L991.9 231.6 L993.1 233.8 L994.4 236.0 L995.6 238.2 L996.8 240.3 L998.1 242.5 L999.3 244.7 L1000.6 246.9 L1001.8 249.0 L1003.1 251.2 L1004.4 253.4 L1005.6 255.5 L1006.9 257.7 L1008.2 259.8 L1009.5 262.0 L1010.9 264.1 L1012.2 266.2 L1013.5 268.4 L1014.9 270.5 L1016.3 272.6 L1017.6 274.7 L1019.0 276.7 L1020.4 278.8 L1021.9 280.9 L1023.3 282.9 L1024.8 285.0 L1026.2 287.0 L1027.7 289.0 L1029.2 291.0 L1030.8 293.0 L1032.3 295.0 L1033.9 297.0 L1035.5 298.9 L1037.1 300.8 L1038.7 302.7 L1040.3 304.6 L1042.0 306.5 L1043.7 308.4 L1045.4 310.2 L1047.1 312.0 L1048.9 313.8 L1050.6 315.6 L1052.4 317.4 L1054.3 319.1 L1056.1 320.8" fill="none" stroke="#f00" stroke-width="2.8" stroke-linejoin="round" stroke-linecap="round"/>
<path d="M613.9 324.8 L616.3 324.1 L618.7 323.4 L621.1 322.7 L623.5 321.9 L625.9 321.2 L628.3 320.4 L630.7 319.7 L633.2 319.0 L635.6 318.3 L638.0 317.7 L640.5 317.1 L642.9 316.7 L645.4 316.2 L647.9 315.9 L650.4 315.7 L652.9 315.5 L655.4 315.4 L658.0 315.3 L660.5 315.3 L663.0 315.2 L665.5 315.2 L668.0 315.2 L670.5 315.2 L673.0 315.2 L675.6 315.1 L678.1 315.0 L680.6 314.8 L683.1 314.6 L685.6 314.3 L688.1 313.9 L690.5 313.4 L693.0 312.8 L695.4 312.2 L697.8 311.5 L700.2 310.7 L702.6 309.9 L705.0 309.0 L707.3 308.1 L709.6 307.2 L712.0 306.2 L714.3 305.2 L716.6 304.2 L718.9 303.1 L721.1 302.1 L723.4 301.0 L725.7 300.0 L728.0 298.9 L730.3 297.9 L732.6 296.9 L734.9 295.8 L737.1 294.7 L739.4 293.7 L741.7 292.6 L744.0 291.5 L746.2 290.4 L748.5 289.3 L750.7 288.1 L752.9 287.0 L755.2 285.8 L757.4 284.6 L759.5 283.3 L761.7 282.0 L763.8 280.7 L765.9 279.3 L768.0 277.9 L770.1 276.5 L772.1 275.0 L774.1 273.4 L776.0 271.8 L777.9 270.2 L779.8 268.5 L781.6 266.7 L783.3 264.9 L785.0 263.0 L786.6 261.1 L788.2 259.2 L789.8 257.2 L791.2 255.1 L792.7 253.1 L794.1 251.0 L795.4 248.9 L796.7 246.7 L798.0 244.5 L799.2 242.3 L800.4 240.1 L801.6 237.9 L802.7 235.7 L803.9 233.4 L804.9 231.1 L806.0 228.9 L807.1 226.6 L808.1 224.3 L809.1 222.0 L810.1 219.7 L811.1 217.4 L812.1 215.1 L813.1 212.7 L814.1 210.4 L815.0 208.1 L816.0 205.8 L817.0 203.5 L817.9 201.1 L818.9 198.8 L819.8 196.5 L820.8 194.2 L821.7 191.8 L822.6 189.5 L823.6 187.1 L824.5 184.8 L825.4 182.4 L826.3 180.1 L827.2 177.7 L828.1 175.4 L828.9 173.0 L829.8 170.7 L830.7 168.3 L831.5 166.0 L832.4 163.6 L833.2 161.2 L834.0 158.8 L834.9 156.5 L835.7 154.1 L836.5 151.7 L837.3 149.3 L838.0 146.9 L838.8 144.5 L839.6 142.1 L840.3 139.7 L841.1 137.3 L841.8 134.9 L842.5 132.5 L843.2 130.1 L843.9 127.7 L844.6 125.2 L845.2 122.8 L845.9 120.4 L846.6 118.0 L847.3 115.5 L847.9 113.1 L848.6 110.7 L849.3 108.3 L850.0 105.9 L850.7 103.4 L851.4 101.0 L852.1 98.6 L852.8 96.2 L853.6 93.8 L854.4 91.4 L855.2 89.0 L856.0 86.7 L856.9 84.3 L857.8 82.0 L858.7 79.6 L859.7 77.3 L860.7 75.0 L861.7 72.7 L862.8 70.4 L863.9 68.1 L865.0 65.9 L866.2 63.7 L867.4 61.5 L868.7 59.3 L870.0 57.2 L871.4 55.1 L872.8 53.0 L874.2 50.9 L875.7 48.9 L877.3 46.9 L878.9 45.0 L880.6 43.1 L882.3 41.3 L884.2 39.6 L886.1 38.0 L888.2 36.6 L890.4 35.5 L892.8 34.7 L895.3 34.3 L897.8 34.5 L900.2 35.1 L902.5 36.1 L904.7 37.4 L906.7 38.9 L908.6 40.5 L910.5 42.3 L912.2 44.1 L913.9 46.0 L915.5 47.9 L917.0 49.9 L918.5 51.9 L920.0 54.0 L921.3 56.1 L922.7 58.2 L924.0 60.3 L925.2 62.5 L926.5 64.7 L927.6 67.0 L928.7 69.2 L929.8 71.5 L930.9 73.8 L931.9 76.1 L932.8 78.4 L933.8 80.7 L934.7 83.1 L935.6 85.4 L936.4 87.8 L937.3 90.2 L938.1 92.5 L938.9 94.9 L939.7 97.3 L940.5 99.7 L941.3 102.1 L942.1 104.5 L942.9 106.8 L943.8 109.2 L944.6 111.6 L945.4 114.0 L946.2 116.3 L947.1 118.7 L947.9 121.1 L948.8 123.4 L949.7 125.8 L950.6 128.1 L951.5 130.5 L952.4 132.8 L953.3 135.2 L954.2 137.5 L955.2 139.9 L956.1 142.2 L957.1 144.5 L958.1 146.8 L959.0 149.1 L960.0 151.5 L961.0 153.8 L962.0 156.1 L963.0 158.4 L964.1 160.7 L965.1 163.0 L966.1 165.3 L967.2 167.5 L968.2 169.8 L969.3 172.1 L970.4 174.4 L971.5 176.6 L972.6 178.9 L973.7 181.2 L974.8 183.4 L975.9 185.7 L977.0 187.9 L978.2 190.2 L979.3 192.4 L980.5 194.6 L981.6 196.9 L982.8 199.1 L984.0 201.3 L985.2 203.5 L986.3 205.8 L987.5 208.0 L988.8 210.2 L990.0 212.4 L991.2 214.6 L992.4 216.8 L993.7 219.0 L994.9 221.2 L996.2 223.3 L997.4 225.5 L998.7 227.7 L1000.0 229.9 L1001.2 232.0 L1002.5 234.2 L1003.8 236.3 L1005.1 238.5 L1006.4 240.6 L1007.7 242.8 L1009.1 244.9 L1010.4 247.0 L1011.8 249.2 L1013.1 251.3 L1014.5 253.4 L1015.9 255.5 L1017.3 257.6 L1018.7 259.6 L1020.1 261.7 L1021.6 263.8 L1023.1 265.8 L1024.6 267.8 L1026.1 269.8 L1027.7 271.8 L1029.2 273.8 L1030.8 275.7 L1032.5 277.6 L1034.1 279.5 L1035.8 281.4 L1037.5 283.2 L1039.2 285.1 L1041.0 286.8 L1042.8 288.6 L1044.6 290.3 L1046.5 292.0 L1048.4 293.7 L1050.3 295.3 L1052.2 296.9 L1054.2 298.5 L1056.2 300.0" fill="none" stroke="#f0f" stroke-width="2.8" stroke-linejoin="round" stroke-linecap="round"/>
<path d="M613.9 325.5 L616.4 325.3 L618.9 325.1 L621.4 324.7 L623.9 324.4 L626.4 324.0 L628.9 323.6 L631.3 323.1 L633.8 322.7 L636.3 322.2 L638.8 321.7 L641.2 321.3 L643.7 320.9 L646.2 320.5 L648.7 320.2 L651.2 319.9 L653.7 319.6 L656.2 319.4 L658.7 319.2 L661.2 319.0 L663.7 318.8 L666.2 318.6 L668.7 318.4 L671.2 318.1 L673.7 317.8 L676.2 317.5 L678.7 317.1 L681.2 316.6 L683.6 316.0 L686.0 315.3 L688.4 314.5 L690.8 313.6 L693.1 312.6 L695.4 311.5 L697.6 310.3 L699.8 309.1 L701.9 307.8 L704.0 306.4 L706.1 305.0 L708.2 303.6 L710.2 302.1 L712.2 300.6 L714.2 299.0 L716.2 297.5 L718.1 295.9 L720.1 294.3 L722.0 292.7 L724.0 291.1 L725.9 289.5 L727.9 287.9 L729.8 286.3 L731.7 284.7 L733.6 283.1 L735.6 281.4 L737.5 279.8 L739.4 278.2 L741.3 276.5 L743.2 274.8 L745.0 273.2 L746.9 271.5 L748.7 269.8 L750.6 268.1 L752.4 266.3 L754.2 264.6 L756.0 262.8 L757.8 261.1 L759.6 259.3 L761.3 257.5 L763.1 255.6 L764.8 253.8 L766.5 251.9 L768.2 250.1 L769.8 248.2 L771.5 246.3 L773.1 244.3 L774.7 242.4 L776.2 240.4 L777.8 238.4 L779.3 236.4 L780.8 234.4 L782.3 232.4 L783.8 230.4 L785.2 228.3 L786.7 226.3 L788.1 224.2 L789.5 222.1 L790.9 220.0 L792.2 217.9 L793.6 215.7 L794.9 213.6 L796.2 211.4 L797.5 209.3 L798.8 207.1 L800.0 204.9 L801.3 202.7 L802.5 200.6 L803.7 198.3 L804.9 196.1 L806.1 193.9 L807.3 191.7 L808.4 189.5 L809.6 187.2 L810.7 185.0 L811.8 182.7 L812.9 180.4 L814.0 178.2 L815.1 175.9 L816.1 173.6 L817.2 171.4 L818.3 169.1 L819.3 166.8 L820.3 164.5 L821.4 162.2 L822.4 159.9 L823.4 157.6 L824.4 155.3 L825.4 153.0 L826.3 150.6 L827.3 148.3 L828.3 146.0 L829.2 143.7 L830.2 141.3 L831.2 139.0 L832.1 136.7 L833.0 134.4 L834.0 132.0 L834.9 129.7 L835.9 127.3 L836.8 125.0 L837.7 122.7 L838.6 120.3 L839.6 118.0 L840.5 115.7 L841.4 113.3 L842.3 111.0 L843.2 108.6 L844.1 106.3 L845.0 103.9 L846.0 101.6 L846.9 99.2 L847.8 96.9 L848.7 94.5 L849.6 92.2 L850.5 89.8 L851.4 87.5 L852.3 85.1 L853.2 82.8 L854.1 80.4 L854.9 78.1 L855.8 75.7 L856.7 73.4 L857.6 71.0 L858.5 68.7 L859.5 66.4 L860.4 64.0 L861.4 61.7 L862.4 59.4 L863.5 57.2 L864.7 54.9 L865.9 52.7 L867.2 50.6 L868.6 48.5 L870.1 46.5 L871.7 44.5 L873.5 42.7 L875.3 41.0 L877.3 39.5 L879.4 38.1 L881.6 36.8 L883.9 35.8 L886.2 34.9 L888.7 34.2 L891.1 33.8 L893.6 33.7 L896.1 33.9 L898.6 34.4 L900.9 35.3 L903.1 36.5 L905.2 38.0 L907.1 39.7 L908.8 41.5 L910.5 43.4 L912.0 45.3 L913.5 47.4 L914.9 49.5 L916.2 51.6 L917.5 53.8 L918.8 55.9 L920.0 58.1 L921.2 60.3 L922.4 62.6 L923.6 64.8 L924.7 67.0 L925.8 69.3 L926.9 71.6 L927.9 73.9 L929.0 76.2 L930.0 78.5 L931.0 80.8 L932.0 83.1 L932.9 85.4 L933.9 87.7 L934.8 90.1 L935.8 92.4 L936.7 94.7 L937.6 97.1 L938.5 99.4 L939.4 101.8 L940.4 104.1 L941.3 106.5 L942.2 108.8 L943.1 111.1 L944.0 113.5 L945.0 115.8 L945.9 118.1 L946.9 120.5 L947.8 122.8 L948.8 125.1 L949.8 127.4 L950.8 129.7 L951.8 132.0 L952.8 134.3 L953.8 136.6 L954.9 138.9 L955.9 141.2 L957.0 143.5 L958.0 145.8 L959.1 148.1 L960.2 150.3 L961.3 152.6 L962.4 154.9 L963.5 157.1 L964.6 159.4 L965.7 161.6 L966.8 163.9 L968.0 166.1 L969.1 168.4 L970.3 170.6 L971.4 172.8 L972.6 175.1 L973.8 177.3 L974.9 179.5 L976.1 181.7 L977.3 184.0 L978.5 186.2 L979.7 188.4 L980.9 190.6 L982.1 192.8 L983.3 195.0 L984.5 197.2 L985.8 199.4 L987.0 201.6 L988.2 203.8 L989.5 206.0 L990.7 208.2 L992.0 210.4 L993.2 212.5 L994.5 214.7 L995.7 216.9 L997.0 219.1 L998.2 221.2 L999.5 223.4 L1000.8 225.6 L1002.1 227.8 L1003.3 229.9 L1004.6 232.1 L1005.9 234.3 L1007.2 236.4 L1008.5 238.6 L1009.7 240.7 L1011.0 242.9 L1012.4 245.0 L1013.7 247.2 L1015.0 249.3 L1016.4 251.4 L1017.7 253.6 L1019.1 255.7 L1020.5 257.8 L1021.9 259.8 L1023.3 261.9 L1024.8 264.0 L1026.3 266.0 L1027.8 268.0 L1029.3 270.0 L1030.9 272.0 L1032.5 273.9 L1034.1 275.8 L1035.8 277.7 L1037.5 279.6 L1039.2 281.4 L1040.9 283.2 L1042.7 285.0 L1044.5 286.7 L1046.4 288.4 L1048.3 290.1 L1050.2 291.7 L1052.2 293.3 L1054.2 294.8 L1056.2 296.3" fill="none" stroke="#008000" stroke-width="2.8" stroke-linejoin="round" stroke-linecap="round"/>
<line x1="87.4" y1="32.8" x2="118.6" y2="32.8" stroke="#000" stroke-width="2.5" stroke-linecap="round"/>
<text transform="translate(123.8 37.8) scale(1 1.1)" font-size="14" font-family="'Liberation Sans', sans-serif" font-weight="bold">PhMe</text>
<line x1="87.4" y1="51.0" x2="118.6" y2="51.0" stroke="#f00" stroke-width="2.5" stroke-linecap="round"/>
<text transform="translate(123.8 55.8) scale(1 1.1)" font-size="14" font-family="'Liberation Sans', sans-serif" font-weight="bold">DCM</text>
<line x1="87.4" y1="69.0" x2="118.6" y2="69.0" stroke="#00f" stroke-width="2.5" stroke-linecap="round"/>
<text transform="translate(123.8 73.8) scale(1 1.1)" font-size="14" font-family="'Liberation Sans', sans-serif" font-weight="bold">THF</text>
<line x1="87.4" y1="86.7" x2="118.6" y2="86.7" stroke="#f0f" stroke-width="2.5" stroke-linecap="round"/>
<text transform="translate(123.8 91.6) scale(1 1.1)" font-size="14" font-family="'Liberation Sans', sans-serif" font-weight="bold">MeCN</text>
<text transform="translate(1000.0 24.0) scale(1 1.1)" font-size="14" font-family="'Liberation Sans', sans-serif" font-weight="bold">D-6</text>
<line x1="963.4" y1="36.4" x2="994.2" y2="36.4" stroke="#000" stroke-width="2.5" stroke-linecap="round"/>
<text transform="translate(1000.0 41.2) scale(1 1.1)" font-size="14" font-family="'Liberation Sans', sans-serif" font-weight="bold">DCM</text>
<text transform="translate(1000.0 59.8) scale(1 1.1)" font-size="14" font-family="'Liberation Sans', sans-serif" font-weight="bold">D-6+G5</text>
<line x1="963.4" y1="72.1" x2="994.2" y2="72.1" stroke="#f00" stroke-width="2.5" stroke-linecap="round"/>
<text transform="translate(1000.0 77.7) scale(1 1.1)" font-size="14" font-family="'Liberation Sans', sans-serif" font-weight="bold">PhMe</text>
<line x1="963.4" y1="90.9" x2="994.2" y2="90.9" stroke="#00f" stroke-width="2.5" stroke-linecap="round"/>
<text transform="translate(1000.0 95.7) scale(1 1.1)" font-size="14" font-family="'Liberation Sans', sans-serif" font-weight="bold">DCM</text>
<line x1="963.4" y1="108.7" x2="994.2" y2="108.7" stroke="#f0f" stroke-width="2.5" stroke-linecap="round"/>
<text transform="translate(1000.0 113.8) scale(1 1.1)" font-size="14" font-family="'Liberation Sans', sans-serif" font-weight="bold">THF</text>
<line x1="963.4" y1="126.7" x2="994.2" y2="126.7" stroke="#008000" stroke-width="2.5" stroke-linecap="round"/>
<text transform="translate(1000.0 131.8) scale(1 1.1)" font-size="14" font-family="'Liberation Sans', sans-serif" font-weight="bold">MeCN</text>
<line x1="730" y1="23.9" x2="888" y2="23.9" stroke="#1c5a9c" stroke-width="3.4"/>
<polygon points="719.9,23.9 731,18.4 731,29.4" fill="#1c5a9c"/>
<line x1="719" y1="14.8" x2="719" y2="30.5" stroke="#000" stroke-width="2.4"/>
<line x1="888.2" y1="14.8" x2="888.2" y2="30.5" stroke="#000" stroke-width="2.4"/>
<text x="811" y="19.4" text-anchor="middle" font-size="18.5" font-family="'Liberation Sans', sans-serif" font-weight="bold">130 nm</text>
</svg></body></html>
